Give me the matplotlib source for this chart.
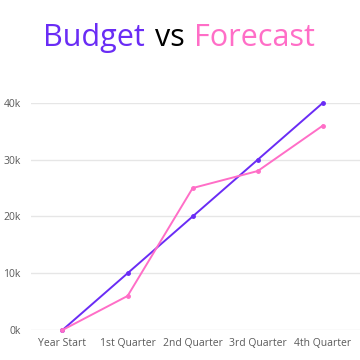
import matplotlib
matplotlib.use('Agg')
import matplotlib.pyplot as plt
from matplotlib.ticker import FuncFormatter

plt.rcParams['font.family'] = ['Open Sans', 'DejaVu Sans']

# ------------------------ Data ------------------------
categories = ["Year Start", "1st Quarter", "2nd Quarter", "3rd Quarter", "4th Quarter"]
budget = [0, 10000, 20000, 30000, 40000]
forecast = [0, 6000, 25000, 28000, 36000]
y_ticks = [0, 10000, 20000, 30000, 40000]

purple = "#6a2cf5"
pink = "#ff6ec7"

# ------------------------ Plotting ------------------------
fig = plt.figure(figsize=(3.6, 3.6), dpi=100)
ax = fig.add_axes([0.085, 0.0833, 0.915, 0.631])

x = list(range(len(categories)))
ax.plot(x, budget, color=purple, lw=1.4, marker="o", ms=2.5, clip_on=False, zorder=3)
ax.plot(x, forecast, color=pink, lw=1.4, marker="o", ms=2.5, clip_on=False, zorder=3)

ax.set_xlim(-0.49, 4.57)
ax.set_ylim(0, 40000)
ax.set_yticks(y_ticks)
ax.yaxis.set_major_formatter(FuncFormatter(lambda v, p: f"{int(v/1000)}k"))
ax.set_xticks(x)
ax.set_xticklabels(categories)

ax.grid(axis="y", color="#e6e6e6", lw=1)
ax.set_axisbelow(True)
for s in ax.spines.values():
    s.set_visible(False)
ax.tick_params(length=0, labelsize=7.5, colors="#5a5a5a")
ax.tick_params(axis="x", pad=6)
ax.tick_params(axis="y", pad=7)

# title with three coloured pieces
fig.text(0.403, 0.895, "Budget", color=purple, fontsize=22, ha="right", va="center")
fig.text(0.472, 0.895, "vs", color="black", fontsize=22, ha="center", va="center")
fig.text(0.540, 0.895, "Forecast", color=pink, fontsize=22, ha="left", va="center")

fig.savefig("out.png", dpi=100)
